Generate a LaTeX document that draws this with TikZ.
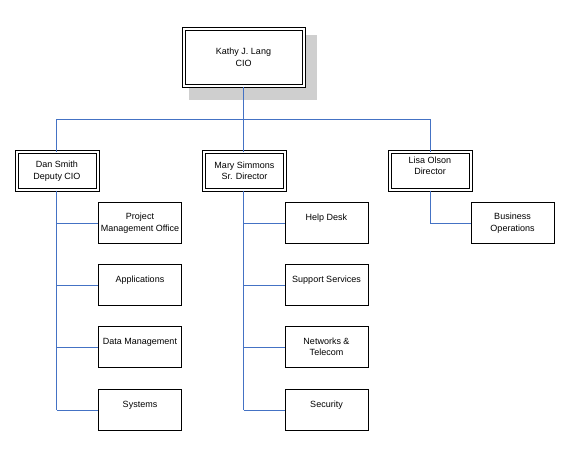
\documentclass[tikz,border=0pt]{standalone}
\usepackage{fontspec}
\setmainfont{Liberation Sans}
\usetikzlibrary{backgrounds}
\definecolor{linkblue}{HTML}{4472C4}
\definecolor{shadegray}{HTML}{CFCFCF}

\tikzset{
    headbox/.style={draw, double, double distance=2pt, line width=1pt, fill=white,
        align=center, inner sep=0pt, minimum width=#1, minimum height=38pt,
        font=\fontsize{9}{11.5}\selectfont},
    unitbox/.style={draw, line width=1pt, fill=white, align=center, inner sep=0pt,
        minimum width=83pt, minimum height=41pt, font=\fontsize{9}{11.5}\selectfont},
    oneline/.style={text depth=11pt},
    link/.style={draw=linkblue, line width=1pt}
}

\begin{document}
\begin{tikzpicture}[x=1pt, y=-1pt]
\useasboundingbox (0,0) rectangle (570,450);

    % top of the chart
    \node [headbox=120pt, minimum height=57pt] (cio) at (243.5,57.5) {Kathy J. Lang\\CIO};
    \begin{scope}[on background layer]
        \fill [shadegray] ([shift={(6,6)}]cio.north west) rectangle ([shift={(13,13)}]cio.south east);
    \end{scope}

    % second row
    \node [headbox=81pt] (dan)  at (57,171)    {Dan Smith\\Deputy CIO};
    \node [headbox=81pt] (mary) at (244.5,171) {Mary Simmons\\Sr. Director};
    \node [headbox=81pt, text depth=11pt] (lisa) at (430,171) {Lisa Olson\\Director};

    % units under Dan Smith
    \node [unitbox] (pmo)  at (140,223) {Project\\Management Office};
    \node [unitbox, oneline] (apps) at (140,285) {Applications};
    \node [unitbox, oneline] (data) at (140,347) {Data Management};
    \node [unitbox, oneline] (sys)  at (140,410) {Systems};

    % units under Mary Simmons
    \node [unitbox, oneline] (help) at (326.5,223) {Help Desk};
    \node [unitbox, oneline] (supp) at (326.5,285) {Support Services};
    \node [unitbox] (net)  at (326.5,347) {Networks \&\\Telecom};
    \node [unitbox, oneline] (sec)  at (326.5,410) {Security};

    % unit under Lisa Olson
    \node [unitbox] (biz) at (512.5,223) {Business\\Operations};

    % connectors
    \coordinate (busL) at (56.5,119.5);
    \coordinate (busR) at (430.5,119.5);
    \draw [link] (cio.south) -- (cio.south |- mary.north);          % trunk
    \draw [link] (dan.north -| busL) -- (busL) -- (busR) -- (lisa.north -| busR);

    \draw [link] (dan.south -| busL) -- (busL |- sys.west);         % left column
    \foreach \unit in {pmo,apps,data,sys}
        \draw [link] (busL |- \unit.west) -- (\unit.west);

    \draw [link] (cio.south |- mary.south) -- (cio.south |- sec.west); % middle column
    \foreach \unit in {help,supp,net,sec}
        \draw [link] (cio.south |- \unit.west) -- (\unit.west);

    \draw [link] (lisa.south -| busR) |- (biz.west);                % right column

\end{tikzpicture}
\end{document}
